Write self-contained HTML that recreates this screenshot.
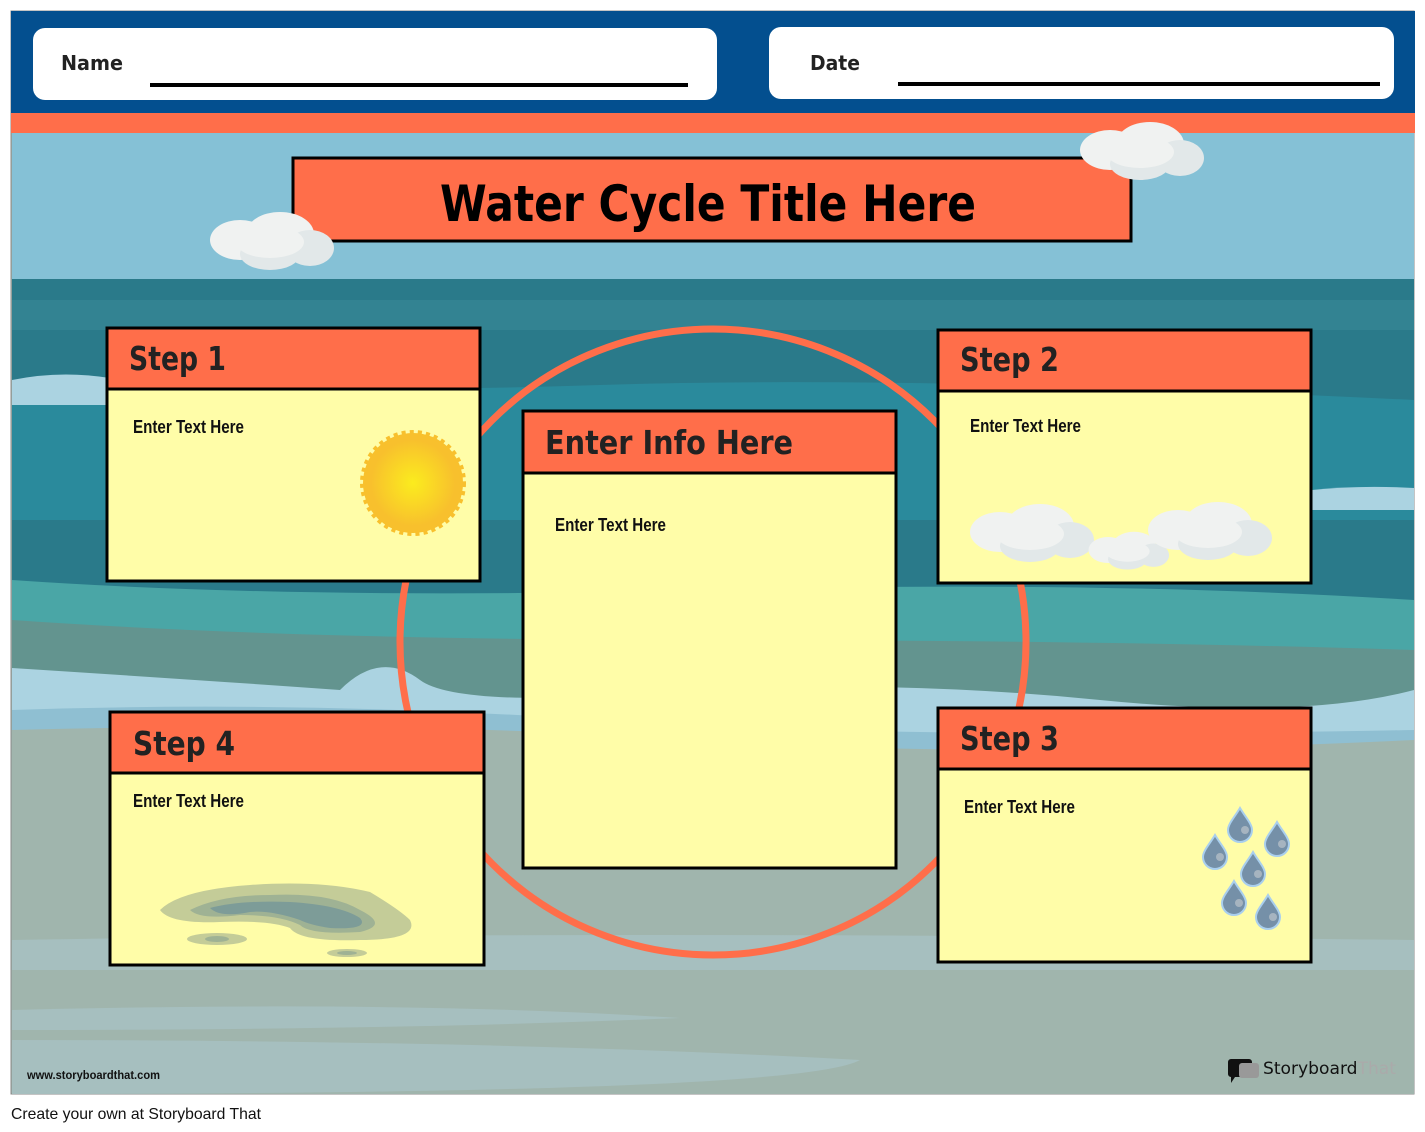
<!DOCTYPE html>
<html><head><meta charset="utf-8"><style>
html,body{margin:0;padding:0;background:#fff;width:1425px;height:1132px;overflow:hidden}
svg{display:block}
.h{font-family:"DejaVu Sans","Liberation Sans",sans-serif;font-weight:bold;fill:#222}
.t{font-family:"Liberation Sans Narrow","Liberation Sans",sans-serif;font-weight:bold;font-size:18px;fill:#111}
</style></head><body>
<svg width="1425" height="1132" viewBox="0 0 1425 1132" xmlns="http://www.w3.org/2000/svg">
<defs>
<radialGradient id="sun" cx="0.5" cy="0.5" r="0.5"><stop offset="0" stop-color="#fbec1e"/><stop offset="1" stop-color="#f8c02d"/></radialGradient>
<g id="cloud">
<ellipse cx="20" cy="0" rx="30" ry="20" fill="#f0f2f1"/><ellipse cx="60" cy="-6" rx="34" ry="22" fill="#f0f2f1"/><ellipse cx="90" cy="8" rx="24" ry="18" fill="#e2e8e9"/><ellipse cx="50" cy="14" rx="30" ry="16" fill="#e2e8e9"/><ellipse cx="50" cy="2" rx="34" ry="16" fill="#f0f2f1"/>
</g>
<g id="drop"><path d="M0 -16 C6 -6 12 0 12 6 A12 12 0 0 1 -12 6 C-12 0 -6 -6 0 -16Z" fill="#7590a8" stroke="#a9cfee" stroke-width="2"/><circle cx="5" cy="6" r="4" fill="#a6b4c0"/></g>
</defs>
<rect x="11" y="11" width="1403" height="1083" fill="#a0b5ad" stroke="#888" stroke-width="1"/>
<rect x="11" y="11" width="1404" height="102" fill="#034f8f"/>
<rect x="11" y="113" width="1404" height="20" fill="#ff6e4a"/>
<rect x="12" y="133" width="1402" height="146" fill="#85c1d6"/>
<rect x="12" y="279" width="1402" height="440" fill="#2a7a8a"/>
<path d="M12 300 H1414 V330 H12Z" fill="#3a8898" opacity="0.6"/>
<path d="M12 380 Q300 395 600 385 T1414 400 V520 H12Z" fill="#2a8a9c"/>
<path d="M12 580 Q300 600 700 590 T1414 600 V700 H12Z" fill="#4aa6a6"/>
<path d="M12 620 Q300 640 700 640 T1414 650 V720 H12Z" fill="#63948f"/>
<path d="M12 668 Q200 680 340 690 Q380 650 420 680 T700 690 Q900 680 1100 700 T1414 690 V760 H12Z" fill="#abd3e1"/>
<path d="M12 380 Q60 370 110 378 V405 H12Z" fill="#abd3e1"/>
<path d="M1312 490 Q1360 485 1414 488 V510 H1312Z" fill="#abd3e1"/>
<path d="M12 710 Q300 700 600 720 T1414 730 V760 H12Z" fill="#8fbfd2"/>
<path d="M12 730 Q400 720 700 740 T1414 740 V1094 H12Z" fill="#a0b5ad"/>
<path d="M12 940 Q600 930 1414 940 V970 H12Z" fill="#a6bfbf"/>
<path d="M12 1010 Q400 1000 680 1018 Q400 1030 12 1030Z" fill="#a6bfbf"/>
<path d="M12 1040 Q500 1040 860 1060 Q800 1094 12 1094Z" fill="#a6bfbf"/>
<rect x="33" y="28" width="684" height="72" rx="12" fill="#fff"/>
<text x="61" y="70" font-family="DejaVu Sans,Liberation Sans,sans-serif" font-weight="bold" font-size="20" fill="#222" textLength="62" lengthAdjust="spacingAndGlyphs">Name</text>
<rect x="150" y="83" width="538" height="4" fill="#000"/>
<rect x="769" y="27" width="625" height="72" rx="12" fill="#fff"/>
<text x="810" y="70" font-family="DejaVu Sans,Liberation Sans,sans-serif" font-weight="bold" font-size="20" fill="#222" textLength="50" lengthAdjust="spacingAndGlyphs">Date</text>
<rect x="898" y="82" width="482" height="4" fill="#000"/>
<rect x="293" y="158" width="838" height="83" fill="#ff6e4a" stroke="#000" stroke-width="3"/>
<text x="708" y="221" text-anchor="middle" font-family="DejaVu Sans,Liberation Sans,sans-serif" font-weight="bold" font-size="50" fill="#000" textLength="536" lengthAdjust="spacingAndGlyphs">Water Cycle Title Here</text>
<use href="#cloud" x="220" y="240"/>
<use href="#cloud" x="1090" y="150"/>
<circle cx="713" cy="642" r="313" fill="none" stroke="#ff6e4a" stroke-width="7"/>
<g stroke="#000" stroke-width="3">
<rect x="107" y="328" width="373" height="253" fill="#fffda8"/><rect x="107" y="328" width="373" height="61" fill="#ff6e4a"/>
<rect x="938" y="330" width="373" height="253" fill="#fffda8"/><rect x="938" y="330" width="373" height="61" fill="#ff6e4a"/>
<rect x="110" y="712" width="374" height="253" fill="#fffda8"/><rect x="110" y="712" width="374" height="61" fill="#ff6e4a"/>
<rect x="938" y="708" width="373" height="254" fill="#fffda8"/><rect x="938" y="708" width="373" height="61" fill="#ff6e4a"/>
<rect x="523" y="411" width="373" height="457" fill="#fffda8"/><rect x="523" y="411" width="373" height="62" fill="#ff6e4a"/>
</g>
<text class="h" x="129" y="370" font-size="33" textLength="97" lengthAdjust="spacingAndGlyphs">Step 1</text>
<text class="h" x="960" y="371" font-size="33" textLength="99" lengthAdjust="spacingAndGlyphs">Step 2</text>
<text class="h" x="133" y="755" font-size="33" textLength="102" lengthAdjust="spacingAndGlyphs">Step 4</text>
<text class="h" x="960" y="750" font-size="33" textLength="99" lengthAdjust="spacingAndGlyphs">Step 3</text>
<text class="h" x="545" y="454" font-size="33" textLength="248" lengthAdjust="spacingAndGlyphs">Enter Info Here</text>
<text class="t" x="133" y="433" textLength="111" lengthAdjust="spacingAndGlyphs">Enter Text Here</text>
<text class="t" x="970" y="432" textLength="111" lengthAdjust="spacingAndGlyphs">Enter Text Here</text>
<text class="t" x="133" y="807" textLength="111" lengthAdjust="spacingAndGlyphs">Enter Text Here</text>
<text class="t" x="964" y="813" textLength="111" lengthAdjust="spacingAndGlyphs">Enter Text Here</text>
<text class="t" x="555" y="531" textLength="111" lengthAdjust="spacingAndGlyphs">Enter Text Here</text>
<circle cx="413" cy="483" r="50" fill="#f8c02d" stroke="#f8c02d" stroke-width="6" stroke-dasharray="4 4"/>
<ellipse cx="413" cy="483" rx="42" ry="43" fill="url(#sun)"/>
<use href="#cloud" x="980" y="532"/>
<g transform="translate(1095,550) scale(0.65)"><use href="#cloud"/></g>
<use href="#cloud" x="1158" y="530"/>
<g transform="translate(160,880)">
<path d="M0 30 Q20 10 90 5 Q160 0 210 12 Q240 30 250 40 Q260 60 200 60 Q140 62 130 48 Q110 40 60 42 Q10 44 0 30Z" fill="#c4cc98"/>
<path d="M30 30 Q60 15 110 15 Q170 12 200 30 Q230 45 200 52 Q150 55 140 45 Q120 35 80 35 Q40 40 30 30Z" fill="#9fb294"/>
<path d="M50 28 Q80 20 130 22 Q180 25 200 38 Q210 50 170 48 Q150 45 140 40 Q110 30 90 32 Q60 38 50 28Z" fill="#7d9c98"/>
<ellipse cx="57" cy="59" rx="30" ry="6" fill="#c4cc98"/><ellipse cx="57" cy="59" rx="12" ry="3" fill="#9fb294"/>
<ellipse cx="187" cy="73" rx="20" ry="4" fill="#c4cc98"/><ellipse cx="187" cy="73" rx="10" ry="2" fill="#9fb294"/>
</g>
<use href="#drop" x="1240" y="824"/><use href="#drop" x="1277" y="838"/><use href="#drop" x="1215" y="851"/>
<use href="#drop" x="1253" y="868"/><use href="#drop" x="1234" y="897"/><use href="#drop" x="1268" y="911"/>
<text x="27" y="1079" font-family="Liberation Sans Narrow,Liberation Sans,sans-serif" font-weight="bold" font-size="12" fill="#111" textLength="133" lengthAdjust="spacingAndGlyphs">www.storyboardthat.com</text>
<path d="M1229 1059 h20 a3 3 0 0 1 3 3 v12 a3 3 0 0 1 -3 3 h-14 l-4 6 v-6 a3 3 0 0 1 -3 -3 v-12 a3 3 0 0 1 3 -3z" fill="#111"/>
<rect x="1239" y="1063" width="20" height="15" rx="3" fill="#999"/>
<text x="1263" y="1074" font-family="DejaVu Sans,Liberation Sans,sans-serif" font-size="17" fill="#111" textLength="133" lengthAdjust="spacingAndGlyphs">Storyboard<tspan fill="#aaa">That</tspan></text>
<text x="11" y="1119" font-family="Liberation Sans Narrow,Liberation Sans,sans-serif" font-size="16" fill="#111" textLength="250" lengthAdjust="spacingAndGlyphs">Create your own at Storyboard That</text>
</svg>
</body></html>
